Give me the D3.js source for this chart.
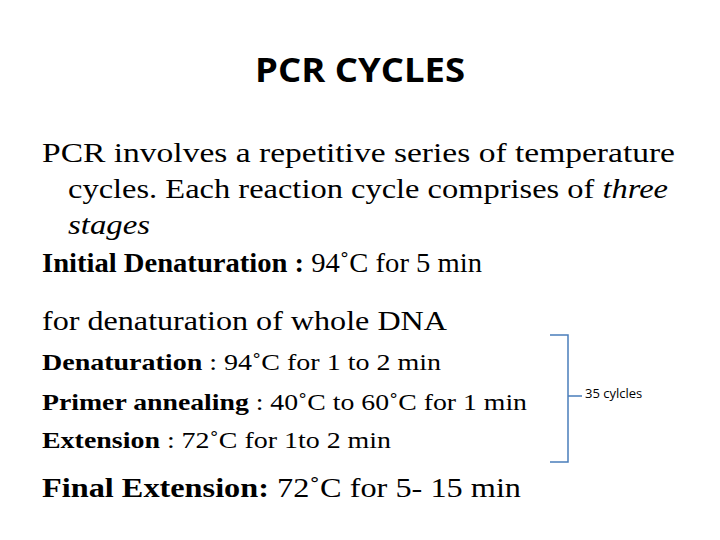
<!DOCTYPE html>
<html><head><meta charset="utf-8">
<script src="https://cdn.jsdelivr.net/npm/d3@7"></script>
<style>body{margin:0;background:#fff}</style>
</head><body>
<div id="slide"></div>
<script>
// slide text, each line is a list of [text, style] runs
var title = "PCR CYCLES";
var bodyLines = [
  {runs: [["PCR involves a repetitive series of temperature", ""]], x: 42, y: 162, size: 28, width: 633},
  {runs: [["cycles. Each reaction cycle comprises of ", ""], ["three", "i"]], x: 68, y: 198, size: 28, width: 600},
  {runs: [["stages", "i"]], x: 68, y: 234, size: 28, width: 82},
  {runs: [["Initial  Denaturation : ", "b"], ["94˚C for 5 min", ""]], x: 42, y: 272, size: 28, width: 440},
  {runs: [["for denaturation of whole DNA", ""]], x: 42, y: 330, size: 28, width: 405},
  {runs: [["Denaturation", "b"], [" : 94˚C for 1 to 2 min", ""]], x: 42, y: 370, size: 24, width: 399},
  {runs: [["Primer annealing", "b"], [" : 40˚C to 60˚C for 1 min", ""]], x: 42, y: 410, size: 24, width: 485},
  {runs: [["Extension", "b"], [" : 72˚C for 1to 2 min", ""]], x: 42, y: 448, size: 24, width: 349},
  {runs: [["Final  Extension: ", "b"], ["72˚C for 5- 15 min", ""]], x: 42, y: 497, size: 28, width: 479}
];
var cycleLabel = "35 cylcles";

var svg = d3.select("#slide").append("svg")
  .attr("width", 720).attr("height", 540);

svg.append("text")
  .attr("x", 360).attr("y", 82)
  .attr("text-anchor", "middle")
  .attr("textLength", 210).attr("lengthAdjust", "spacingAndGlyphs")
  .style("font-family", "'Open Sans', 'Liberation Sans', sans-serif")
  .style("font-weight", "bold")
  .style("font-size", "34px")
  .text(title);

var lines = svg.selectAll(".line")
  .data(bodyLines)
  .enter().append("text")
  .attr("class", "line")
  .attr("x", function(d) { return d.x })
  .attr("y", function(d) { return d.y })
  .attr("textLength", function(d) { return d.width })
  .attr("lengthAdjust", "spacingAndGlyphs")
  .style("font-family", "'Liberation Serif', serif")
  .style("font-size", function(d) { return d.size + "px" });

lines.selectAll("tspan")
  .data(function(d) { return d.runs })
  .enter().append("tspan")
  .style("font-weight", function(r) { return r[1] == "b" ? "bold" : "normal" })
  .style("font-style", function(r) { return r[1] == "i" ? "italic" : "normal" })
  .text(function(r) { return r[0] });

// bracket
var bracket = d3.path();
bracket.moveTo(550, 335); bracket.lineTo(568, 335);
bracket.lineTo(568, 462); bracket.lineTo(550, 462);
bracket.moveTo(568, 396); bracket.lineTo(582, 396);
svg.append("path")
  .attr("d", bracket.toString())
  .attr("fill", "none")
  .attr("stroke", "#4a7ebb")
  .attr("stroke-width", 1.5);

svg.append("text")
  .attr("x", 585).attr("y", 398)
  .style("font-family", "'Open Sans', 'Liberation Sans', sans-serif")
  .style("font-size", "13px")
  .text(cycleLabel);
</script>
</body></html>
